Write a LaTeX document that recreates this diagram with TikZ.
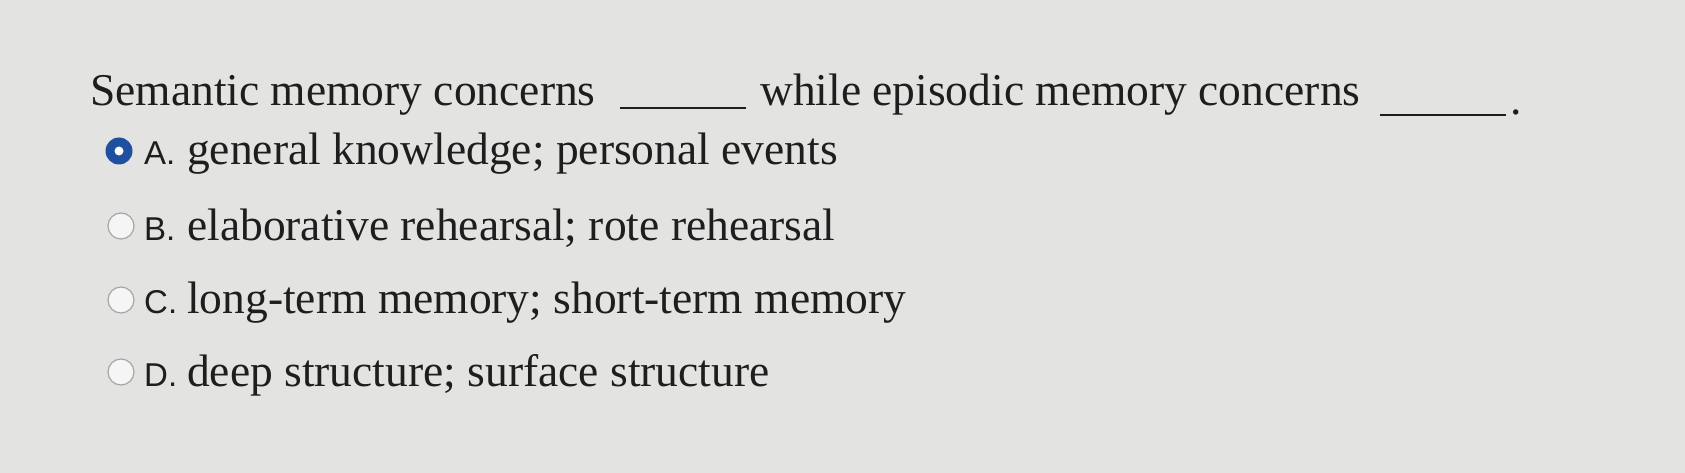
\documentclass[tikz,border=0pt]{standalone}
\usepackage{fontspec}
\setmainfont{Liberation Serif}
\newfontfamily\lab{Liberation Sans}
\definecolor{bg}{HTML}{E3E3E1}
\definecolor{ink}{HTML}{1E1E1E}
\definecolor{sel}{HTML}{1F4FA0}
\begin{document}
\begin{tikzpicture}[x=1pt,y=-1pt,
  q/.style={anchor=base west,inner sep=0pt,text=ink,font=\fontsize{45.5}{48}\selectfont},
  lb/.style={anchor=base west,inner sep=0pt,text=ink,font=\lab\fontsize{33}{36}\selectfont},
  radio/.style={circle,draw=gray!70,line width=1.2pt,fill=gray!8,minimum size=26pt,inner sep=0pt}]
\fill[bg] (0,0) rectangle (1685,473);
\useasboundingbox (0,0) rectangle (1685,473);
\node[q] (q1) at (90,106) {Semantic memory concerns};
\coordinate (b1s) at (620,108); \coordinate (b1e) at (746,108);
\draw[ink,line width=1.3pt] (b1s) -- (b1e);
\node[q] (q2) at (760,106) {while episodic memory concerns};
\coordinate (b2s) at (1380,115); \coordinate (b2e) at (1506,115);
\draw[ink,line width=1.3pt] (b2s) -- (b2e);
\node[q] (dot) at (1510,115) {.};
% options
\node[circle,fill=sel,minimum size=27pt,inner sep=0pt] (ra) at (119,151) {};
\node[circle,fill=white,minimum size=9pt,inner sep=0pt] (rai) at (ra) {};
\node[lb] (la) at (144,165) {A.};
\node[q] (ta) at (187,165) {general knowledge; personal events};
\node[radio] (rb) at (121,226) {};
\node[lb] (lbB) at (144,240) {B.};
\node[q] (tb) at (187,240) {elaborative rehearsal; rote rehearsal};
\node[radio] (rc) at (121,300) {};
\node[lb] (lc) at (144,313) {C.};
\node[q] (tc) at (187,313) {long-term memory; short-term memory};
\node[radio] (rd) at (121,372) {};
\node[lb] (ld) at (144,386) {D.};
\node[q] (td) at (187,386) {deep structure; surface structure};
\end{tikzpicture}
\end{document}
